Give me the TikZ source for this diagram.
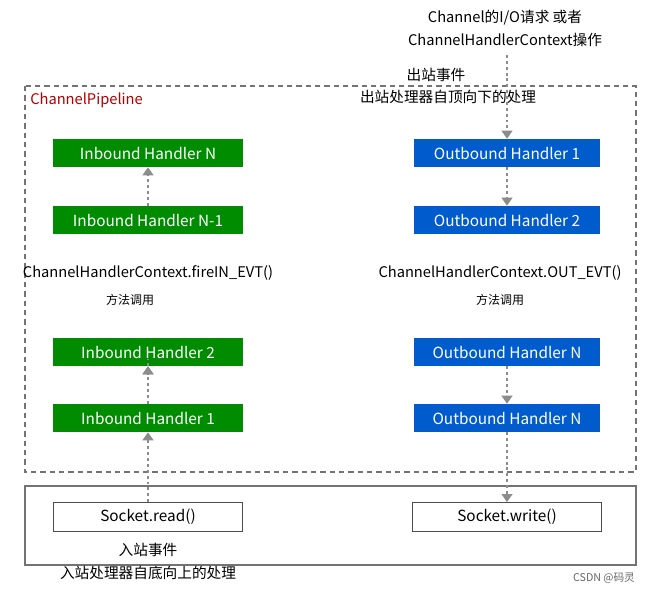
\documentclass[tikz,border=0pt]{standalone}
\usepackage{fontspec}
\setmainfont{Noto Sans CJK SC}
\usetikzlibrary{arrows.meta}
\begin{document}
\begin{tikzpicture}[x=0.75pt,y=-0.75pt,
  gbox/.style={fill=green!55!black,text=white,minimum width=142pt,minimum height=21pt,inner sep=0pt,font=\fontsize{11.5}{13}\selectfont},
  bbox/.style={fill=blue!55!cyan!80!black,text=white,minimum width=140pt,minimum height=21pt,inner sep=0pt,font=\fontsize{11.5}{13}\selectfont},
  sbox/.style={draw=black!70,fill=white,minimum width=142pt,minimum height=22pt,inner sep=0pt,font=\fontsize{11.5}{13}\selectfont},
  lbl/.style={font=\fontsize{11}{13}\selectfont,inner sep=0pt},
  sml/.style={font=\fontsize{9}{11}\selectfont,inner sep=0pt},
  arr/.style={draw=black!45,line width=2.2pt,dash pattern=on 2.2pt off 2.2pt,-{Triangle[length=6pt,width=8pt]}}]
\useasboundingbox (0,0) rectangle (652,593);
\draw[black!55,line width=1pt,dash pattern=on 4pt off 3pt] (25,86) rectangle (636,472);
\draw[black!55,line width=1pt] (25,486) rectangle (636,565);
\node[lbl,text=red!70!black,anchor=west] (cp) at (30,100) {ChannelPipeline};
\node[lbl] (t1) at (505,18) {Channel的I/O请求 或者};
\node[lbl] (t2) at (505,40) {ChannelHandlerContext操作};
\coordinate (src) at (507,55);
\node[lbl] (o1) at (436,75) {出站事件};
\node[lbl] (o2) at (448,97) {出站处理器自顶向下的处理};
\node[gbox] (iN) at (148,153) {Inbound Handler N};
\node[gbox] (iN1) at (148,220) {Inbound Handler N-1};
\node[gbox] (i2) at (148,352) {Inbound Handler 2};
\node[gbox] (i1) at (148,418) {Inbound Handler 1};
\node[bbox] (oA) at (507,153) {Outbound Handler 1};
\node[bbox] (oB) at (507,220) {Outbound Handler 2};
\node[bbox] (oC) at (507,352) {Outbound Handler N};
\node[bbox] (oD) at (507,418) {Outbound Handler N};
\node[lbl] (f1) at (148,273) {ChannelHandlerContext.fireIN\_EVT()};
\node[sml] (f2) at (130,300) {方法调用};
\node[lbl] (g1) at (500,273) {ChannelHandlerContext.OUT\_EVT()};
\node[sml] (g2) at (500,300) {方法调用};
\node[sbox] (sr) at (148,517) {Socket.read()};
\node[sbox] (sw) at (507,517) {Socket.write()};
\node[lbl] (b1) at (148,550) {入站事件};
\node[lbl] (b2) at (148,573) {入站处理器自底向上的处理};
\node[font=\fontsize{8}{10}\selectfont,text=black!60,inner sep=0pt] (wm) at (604,578) {CSDN @码灵};
\draw[arr] (src) -- (oA.north);
\draw[arr] (oA.south) -- (oB.north);
\draw[arr] (oC.south) -- (oD.north);
\draw[arr] (oD.south) -- (sw.north);
\draw[arr] (sr.north) -- (i1.south);
\draw[arr] (i2.south) -- (i2.south) ;
\draw[arr] (i1.north) -- (i2.south);
\draw[arr] (iN1.north) -- (iN.south);
\end{tikzpicture}
\end{document}
